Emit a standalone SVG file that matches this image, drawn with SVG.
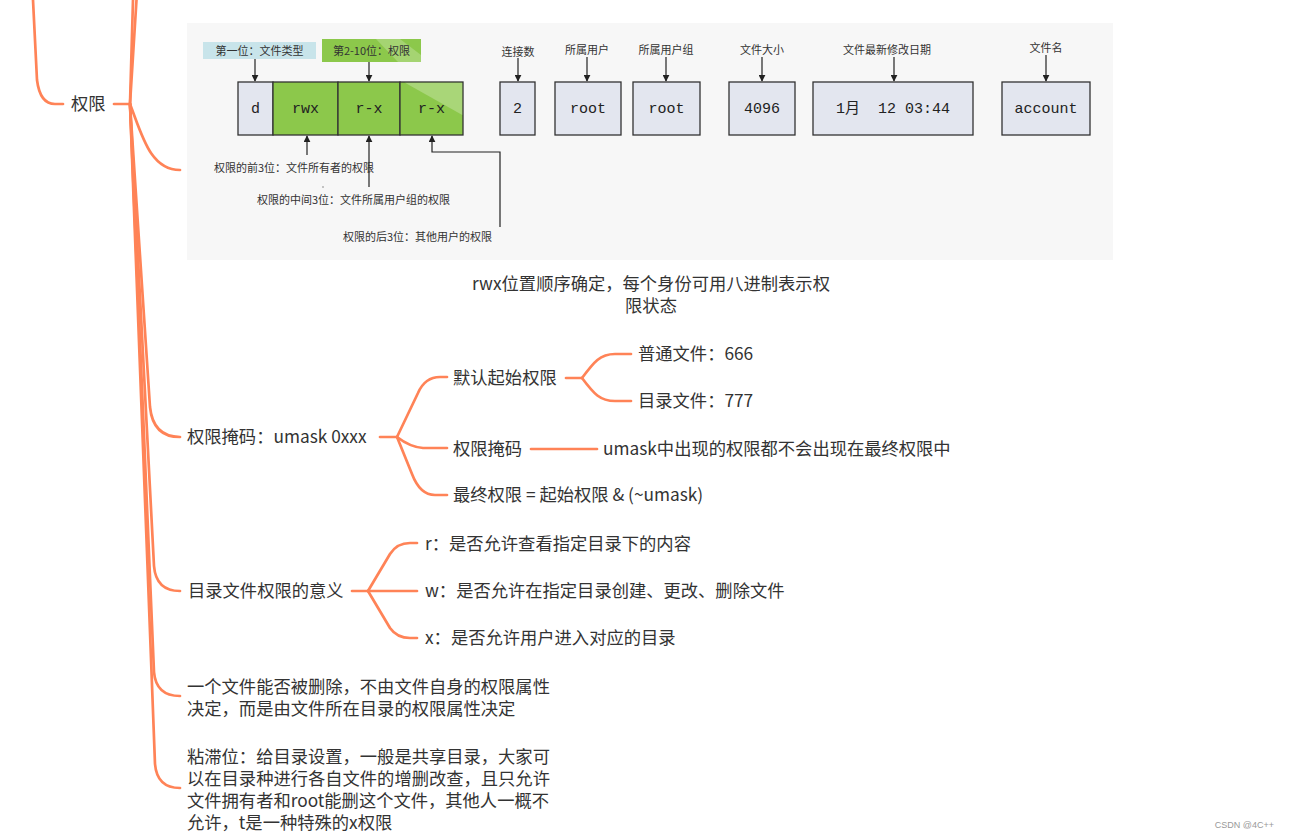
<svg xmlns="http://www.w3.org/2000/svg" width="1290" height="838" viewBox="0 0 1290 838">
<defs>
<style>
.t{font-family:"Noto Sans CJK SC","Microsoft YaHei",sans-serif;font-size:17.3px;fill:#333}
.c{fill:none;stroke:#ff8357;stroke-width:2.7;stroke-linecap:round;stroke-linejoin:round}
.box{fill:#e3e6ef;stroke:#333;stroke-width:1.3}
.gbox{fill:#8cc84b;stroke:#333;stroke-width:1.3}
.mono{font-family:"Liberation Mono","Noto Sans CJK SC",monospace;font-size:15px;fill:#222;text-anchor:middle}
.lab{font-family:"Noto Sans CJK SC",sans-serif;font-size:11px;fill:#333;text-anchor:middle}
.lab2{font-family:"Noto Sans CJK SC",sans-serif;font-size:11px;fill:#333}
.ar{fill:none;stroke:#222;stroke-width:1.2}
</style>
<marker id="ah" viewBox="0 0 10 10" refX="9" refY="5" markerWidth="7" markerHeight="7" orient="auto" markerUnits="userSpaceOnUse">
<path d="M0,0 L10,5 L0,10 z" fill="#222"/>
</marker>
</defs>
<rect width="1290" height="838" fill="#fff"/>

<g id="connectors">
<path class="c" d="M33,0 L37,80 Q40,104 55,104 L63,104"/>
<path class="c" d="M114,104 L130,104"/>
<path class="c" d="M130,104 L133,0"/>
<path class="c" d="M130,104 L136.5,0"/>
<path class="c" d="M130,104 C142,135 150,170 180,170"/>
<path class="c" d="M130,104 L150,407 Q153,437 180,437"/>
<path class="c" d="M130,104 L154,566 Q156,591 180,591"/>
<path class="c" d="M130,104 L154,672 Q156,696 180,696"/>
<path class="c" d="M130,104 L155,764 Q157,788 180,788"/>
<path class="c" d="M380,437 L397,437"/>
<path class="c" d="M397,437 L418,393 Q425,377 440,377 L447,377"/>
<path class="c" d="M397,437 Q410,447 423,448 L447,448"/>
<path class="c" d="M397,437 L412,474 Q420,495 435,495 L447,495"/>
<path class="c" d="M566,378 L582,378"/>
<path class="c" d="M582,378 C594,362 600,354 615,354 L631,354"/>
<path class="c" d="M582,378 C594,394 600,401 615,401 L631,401"/>
<path class="c" d="M531,449 L597,449"/>
<path class="c" d="M352,591 L368,591"/>
<path class="c" d="M368,591 L390,554 Q397,543 410,543 L417,543"/>
<path class="c" d="M368,591 L417,591"/>
<path class="c" d="M368,591 L390,628 Q397,638 410,638 L417,638"/>
</g>

<g id="n-quanxian">
<text class="t" x="71" y="110">权限</text>
</g>

<g id="n-image">
<rect x="187" y="23" width="926" height="237" fill="#f7f7f7"/>
<rect x="203" y="42" width="113" height="17" fill="#c8e4ea"/>
<text class="lab" x="259.5" y="54.5">第一位：文件类型</text>
<rect x="322" y="39" width="99" height="23" fill="#8cc84b"/>
<polygon points="376,39 400,39 421,55 421,62 398,62" fill="#fff" opacity="0.22"/>
<text class="lab" x="371.5" y="54.5">第2-10位：权限</text>
<line class="ar" x1="255" y1="59" x2="255" y2="81" marker-end="url(#ah)"/>
<line class="ar" x1="369" y1="62" x2="369" y2="81" marker-end="url(#ah)"/>
<rect class="box" x="238" y="82" width="35" height="53"/>
<rect class="gbox" x="273" y="82" width="65" height="53"/>
<rect class="gbox" x="338" y="82" width="62" height="53"/>
<rect class="gbox" x="400" y="82" width="63" height="53"/>
<polygon points="405,82.7 462.3,82.7 462.3,115" fill="#fff" opacity="0.25"/>
<text class="mono" x="255.5" y="113">d</text>
<text class="mono" x="305.5" y="113">rwx</text>
<text class="mono" x="369" y="113">r-x</text>
<text class="mono" x="431.5" y="113">r-x</text>
<text class="lab" x="518" y="56">连接数</text>
<line class="ar" x1="518" y1="58" x2="518" y2="81" marker-end="url(#ah)"/>
<rect class="box" x="500" y="82" width="35" height="53"/>
<text class="mono" x="517.5" y="113">2</text>
<text class="lab" x="587" y="54">所属用户</text>
<line class="ar" x1="587" y1="57" x2="587" y2="81" marker-end="url(#ah)"/>
<rect class="box" x="555" y="82" width="66" height="53"/>
<text class="mono" x="588" y="113">root</text>
<text class="lab" x="666" y="54">所属用户组</text>
<line class="ar" x1="666" y1="57" x2="666" y2="81" marker-end="url(#ah)"/>
<rect class="box" x="633" y="82" width="67" height="53"/>
<text class="mono" x="666.5" y="113">root</text>
<text class="lab" x="762" y="54">文件大小</text>
<line class="ar" x1="762" y1="57" x2="762" y2="81" marker-end="url(#ah)"/>
<rect class="box" x="729" y="82" width="66" height="53"/>
<text class="mono" x="762" y="113">4096</text>
<text class="lab" x="887" y="54">文件最新修改日期</text>
<line class="ar" x1="894" y1="57" x2="894" y2="81" marker-end="url(#ah)"/>
<rect class="box" x="813" y="82" width="160" height="53"/>
<text class="mono" x="893" y="113" xml:space="preserve">1月  12 03:44</text>
<text class="lab" x="1046" y="52">文件名</text>
<line class="ar" x1="1046" y1="55" x2="1046" y2="81" marker-end="url(#ah)"/>
<rect class="box" x="1002" y="82" width="88" height="53"/>
<text class="mono" x="1046" y="113">account</text>
<line class="ar" x1="307" y1="155" x2="307" y2="136" marker-end="url(#ah)"/>
<line class="ar" x1="369" y1="187" x2="369" y2="136" marker-end="url(#ah)"/>
<path class="ar" d="M500,227 L500,152 L432,152 L432,136" marker-end="url(#ah)"/>
<circle cx="323" cy="187" r="0.7" fill="#666"/>
<text class="lab2" x="214" y="172">权限的前3位：文件所有者的权限</text>
<text class="lab2" x="257" y="204">权限的中间3位：文件所属用户组的权限</text>
<text class="lab2" x="343" y="241">权限的后3位：其他用户的权限</text>
<text class="t" x="651" y="290" text-anchor="middle">rwx位置顺序确定，每个身份可用八进制表示权</text>
<text class="t" x="651" y="312" text-anchor="middle">限状态</text>
</g>

<g id="n-umask">
<text class="t" x="187" y="443">权限掩码：umask 0xxx</text>
</g>
<g id="n-default">
<text class="t" x="453" y="384">默认起始权限</text>
</g>
<g id="n-normal">
<text class="t" x="638" y="360">普通文件：666</text>
</g>
<g id="n-dir">
<text class="t" x="638" y="407">目录文件：777</text>
</g>
<g id="n-mask">
<text class="t" x="453" y="455">权限掩码</text>
</g>
<g id="n-mask-desc">
<text class="t" x="603" y="455">umask中出现的权限都不会出现在最终权限中</text>
</g>
<g id="n-final">
<text class="t" x="453" y="501">最终权限 = 起始权限 &amp; (~umask)</text>
</g>
<g id="n-dirmeaning">
<text class="t" x="188" y="597">目录文件权限的意义</text>
</g>
<g id="n-r">
<text class="t" x="425" y="550">r：是否允许查看指定目录下的内容</text>
</g>
<g id="n-w">
<text class="t" x="425" y="597">w：是否允许在指定目录创建、更改、删除文件</text>
</g>
<g id="n-x">
<text class="t" x="425" y="644">x：是否允许用户进入对应的目录</text>
</g>
<g id="n-delete">
<text class="t" x="187" y="693">一个文件能否被删除，不由文件自身的权限属性</text>
<text class="t" x="187" y="715">决定，而是由文件所在目录的权限属性决定</text>
</g>
<g id="n-sticky">
<text class="t" x="187" y="763">粘滞位：给目录设置，一般是共享目录，大家可</text>
<text class="t" x="187" y="785">以在目录种进行各自文件的增删改查，且只允许</text>
<text class="t" x="187" y="807">文件拥有者和root能删这个文件，其他人一概不</text>
<text class="t" x="187" y="829">允许，t是一种特殊的x权限</text>
</g>
<text x="1274" y="828" text-anchor="end" font-family="'Liberation Sans',sans-serif" font-size="9" fill="#999">CSDN @4C++</text>
</svg>
